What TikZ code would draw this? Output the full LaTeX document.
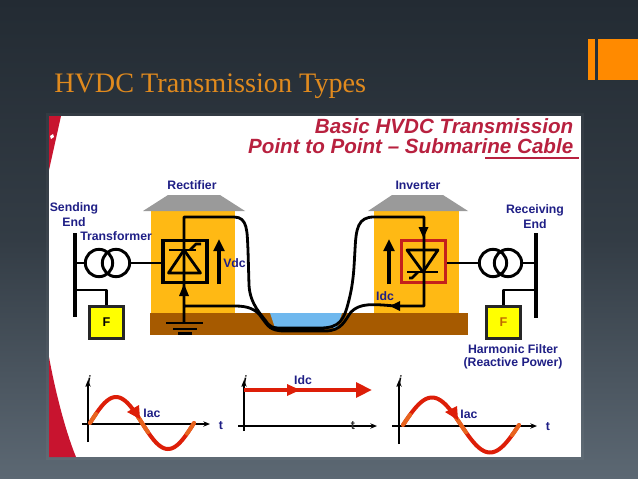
\documentclass[tikz,border=0pt]{standalone}
\usepackage{fontspec}
\setmainfont{Liberation Sans}
\newfontfamily\serifttl{Liberation Serif}
\usetikzlibrary{arrows.meta,shapes.geometric}
\definecolor{bgtop}{HTML}{232B33}
\definecolor{bgbot}{HTML}{5C6873}
\definecolor{deco}{HTML}{FF8A00}
\definecolor{ttl}{HTML}{E08A1E}
\definecolor{crim}{HTML}{B8213F}
\definecolor{redc}{HTML}{C8142F}
\definecolor{navy}{HTML}{1F1F86}
\definecolor{bld}{HTML}{FFB914}
\definecolor{roofc}{HTML}{9A9A9A}
\definecolor{earth}{HTML}{A65A00}
\definecolor{sea}{HTML}{6FB8EE}
\definecolor{fy}{HTML}{FFFF00}
\definecolor{invr}{HTML}{C4201C}
\definecolor{wav}{HTML}{DD1E08}
\definecolor{wavo}{HTML}{E8641E}
\definecolor{fbrown}{HTML}{C06A00}
\tikzset{
  x=0.75pt,y=-0.75pt,
  lbl/.style={font=\fontsize{9.2pt}{10pt}\selectfont\bfseries,text=navy,inner sep=0pt},
  wire/.style={draw=black,line width=2.1pt,line join=round},
  conv/.style={draw=black,line width=2.3pt,minimum width=33pt,minimum height=31pt,inner sep=0pt},
  xfmr/.style={circle,draw=black,line width=2.2pt,minimum size=20.5pt,inner sep=0pt},
  filt/.style={draw=black!85,line width=2.1pt,fill=fy,minimum width=25.5pt,minimum height=24.5pt,inner sep=0pt,font=\fontsize{9.5pt}{10pt}\selectfont\bfseries},
  axis/.style={draw=black,line width=1.1pt,-{Stealth[length=5pt,width=4pt]}},
  wave/.style={draw=wav,line width=3pt,line cap=round},
  waveo/.style={draw=wavo,line width=3pt,line cap=round},
  ttlmain/.style={font=\fontsize{15.45pt}{17pt}\selectfont\bfseries\itshape,text=crim,inner sep=0pt},
  jlbl/.style={inner sep=0pt,font=\fontsize{9pt}{10pt}\selectfont\bfseries\itshape,text=black},
}
\begin{document}
\begin{tikzpicture}
\useasboundingbox (0,0) rectangle (638,478);
% slide background
\shade[top color=bgtop,bottom color=bgbot,middle color=bgtop!72!bgbot] (0,0) rectangle (638,478);
\fill[deco] (588,39) rectangle (595,80);
\fill[deco] (598,39) rectangle (638,80);
\node[anchor=base west,inner sep=0pt,text=ttl,font=\serifttl\fontsize{21.15pt}{24pt}\selectfont] (slidetitle) at (54,93) {HVDC Transmission Types};
% panel
\fill[white,opacity=0.04] (46,113) rectangle (584,460);
\fill[white] (49,116) rectangle (581,457);
\fill[redc] (49,116) -- (61,116) -- (49,170) -- cycle;
\fill[white] (50,136) -- (53,134) -- (54,137) -- (51,139) -- cycle;
\fill[redc] (49,357) .. controls (55,390) and (65,430) .. (76,457) -- (49,457) -- cycle;
% titles
\node[ttlmain,anchor=east] (title1) at (573.5,126) {Basic HVDC Transmission};
\node[ttlmain,anchor=east] (title2) at (573.5,146.5) {Point to Point -- Submarine Cable};
\draw[crim,line width=1pt] (485,158) -- (579,158);
% ground and water
\fill[earth] (150,313) rectangle (468,335);
\fill[sea] (270,313) -- (342,313) -- (337,328) -- (275,328) -- cycle;
% buildings
\fill[bld] (151,211) rectangle (235,313);
\fill[bld] (374,211) rectangle (459,313);
\fill[roofc] (143,211) -- (168,195) -- (220,195) -- (245,211) -- cycle;
\fill[roofc] (368,211) -- (392,195) -- (443,195) -- (468,211) -- cycle;
% labels
\node[lbl] (rect) at (192,185) {Rectifier};
\node[lbl] (inv) at (418,185) {Inverter};
\node[lbl] (send1) at (74,208) {Sending};
\node[lbl] (send2) at (74,222) {End};
\node[lbl,anchor=west] (xf) at (80,236) {Transformer};
\node[lbl] (rec1) at (535,210) {Receiving};
\node[lbl] (rec2) at (535,224) {End};
\node[lbl] (harm1) at (513,349) {Harmonic Filter};
\node[lbl] (harm2) at (513,363) {(Reactive Power)};
% coordinates
\coordinate (lbusT) at (75,233); \coordinate (lbusB) at (75,317);
\coordinate (rbusT) at (536,233); \coordinate (rbusB) at (536,318);
\coordinate (lbusM) at (75,263); \coordinate (rbusM) at (536,263);
\coordinate (lbusF) at (75,290); \coordinate (rbusF) at (536,290);
% transformers, boxes
\node[xfmr] (t1) at (99,263) {};
\node[xfmr] (t2) at (116,263) {};
\node[xfmr] (t3) at (493,263) {};
\node[xfmr] (t4) at (508,263) {};
\node[conv] (cr) at (185,261.5) {};
\node[conv,draw=invr] (ci) at (423.5,261.5) {};
\node[filt] (f1) at (106.5,322.5) {F};
\node[filt,text=fbrown] (f2) at (503.5,322.5) {F};
% buses
\draw[wire,line width=2.3pt] (lbusT) -- (lbusB);
\draw[wire,line width=2.3pt] (rbusT) -- (rbusB);
\draw[wire] (lbusM) -- (t1.west);
\draw[wire] (t2.east) -- (t2.east -| cr.west);
\draw[wire] (rbusM) -- (t4.east);
\draw[wire] (t3.west) -- (t3.west -| ci.east);
\draw[wire] (lbusF) -| (f1.north);
\draw[wire] (rbusF) -| (f2.north);
% rectifier wiring
\coordinate (rt) at (184,217); \coordinate (rb) at (184,306); \coordinate (gnd) at (184,323);
\draw[wire] (gnd) -- (rt) -- (234,217) .. controls (248,217) and (247,232) .. (248,250)
  -- (249,285) .. controls (250,305) and (262,315) .. (268,324)
  .. controls (272,329) and (280,328) .. (290,328) -- (320,328)
  .. controls (340,328) and (344,320) .. (349,300)
  .. controls (354,280) and (354,265) .. (355,250)
  .. controls (356,228) and (358,217) .. (374,217) -- (424,217) -- (424,306) -- (395,306)
  .. controls (372,304) and (360,303) .. (351,312)
  .. controls (345,320) and (342,331) .. (325,331) -- (285,331)
  .. controls (270,331) and (268,326) .. (262,318)
  .. controls (256,309) and (248,306) .. (235,306) -- (rb);
\fill[black] (184,284) -- (189,296) -- (179,296) -- cycle;
% rectifier thyristor
\coordinate (ra) at (184,250);
\draw[wire] (ra) -- (168.5,273) -- (200.5,273) -- cycle;
\draw[wire] (169,250) -- (196,250) ;
\draw[wire] (190,250) -- (196,244) -- (201,244);
% inverter thyristor
\draw[wire] (407,250) -- (438,250) -- (423,272) -- cycle;
\draw[wire] (407,272) -- (438,272);
\draw[wire] (418,272) -- (412,278) -- (409,278);
% arrows on inverter wire
\fill[black] (423.5,238) -- (418.5,227) -- (428.5,227) -- cycle;
\fill[black] (390,306) -- (400,301) -- (400,311) -- cycle;
% voltage arrows
\draw[wire,line width=2.5pt,-{Stealth[length=9pt,width=8pt,inset=0pt]}] (219,284) -- (219,239);
\draw[wire,line width=2.5pt,-{Stealth[length=9pt,width=8pt,inset=0pt]}] (389,284) -- (389,239);
\node[lbl] (vdc) at (234.5,263) {Vdc};
\node[lbl] (idc) at (385,296) {Idc};
% earth symbol
\draw[wire] (166,323) -- (203,323);
\draw[wire] (173,329) -- (197,329);
\draw[wire] (178,333.5) -- (192,333.5);
% graph 1
\coordinate (a1b) at (88,442); \coordinate (a1t) at (88,380);
\coordinate (x1l) at (82,424); \coordinate (x1r) at (210,424);
\draw[axis] (a1b) -- (a1t);
\draw[axis] (x1l) -- (x1r);
\draw[wave,domain=90:194,samples=60,smooth] plot (\x,{423-26*sin((\x-90)/104*360)});
\draw[waveo,domain=90:96,samples=8] plot (\x,{423-26*sin((\x-90)/104*360)});
\draw[waveo,domain=138:148,samples=8] plot (\x,{423-26*sin((\x-90)/104*360)});
\draw[waveo,domain=187:194,samples=8] plot (\x,{423-26*sin((\x-90)/104*360)});
\fill[wav] (127,412) -- (139,405) -- (140,419) -- cycle;
\node[lbl] (iac1) at (152,413) {Iac};
\node[lbl] (t1l) at (221,426) {t};
\node[jlbl] (j1) at (89,381) {j};
% graph 2
\coordinate (a2b) at (244,431); \coordinate (a2t) at (244,380);
\coordinate (x2l) at (238,426); \coordinate (x2r) at (377,426);
\draw[axis] (a2b) -- (a2t);
\draw[axis] (x2l) -- (x2r);
\node[lbl,text=black!80] (t2l) at (353,426) {t};
\node[jlbl] (j2) at (245,381) {j};
\coordinate (d2l) at (244,390); \coordinate (d2r) at (372,390);
\draw[draw=wav,line width=3.4pt,-{Triangle[length=12pt,width=11pt]}] (d2l) -- (d2r);
\fill[wav] (300,390) -- (287,384) -- (287,396) -- cycle;
\node[lbl] (idc2) at (303,380) {Idc};
% graph 3
\coordinate (a3b) at (399,444); \coordinate (a3t) at (399,380);
\coordinate (x3l) at (392,426); \coordinate (x3r) at (537,426);
\draw[axis] (a3b) -- (a3t);
\draw[axis] (x3l) -- (x3r);
\draw[wave,domain=403:519,samples=60,smooth] plot (\x,{425-27.5*sin((\x-403)/116*360)});
\draw[waveo,domain=403:410,samples=8] plot (\x,{425-27.5*sin((\x-403)/116*360)});
\draw[waveo,domain=456:466,samples=8] plot (\x,{425-27.5*sin((\x-403)/116*360)});
\draw[waveo,domain=512:519,samples=8] plot (\x,{425-27.5*sin((\x-403)/116*360)});
\fill[wav] (445,412) -- (457,406) -- (458,420) -- cycle;
\node[lbl] (iac2) at (469,414) {Iac};
\node[lbl] (t3l) at (548,427) {t};
\node[jlbl] (j3) at (400,381) {j};
\end{tikzpicture}
\end{document}
